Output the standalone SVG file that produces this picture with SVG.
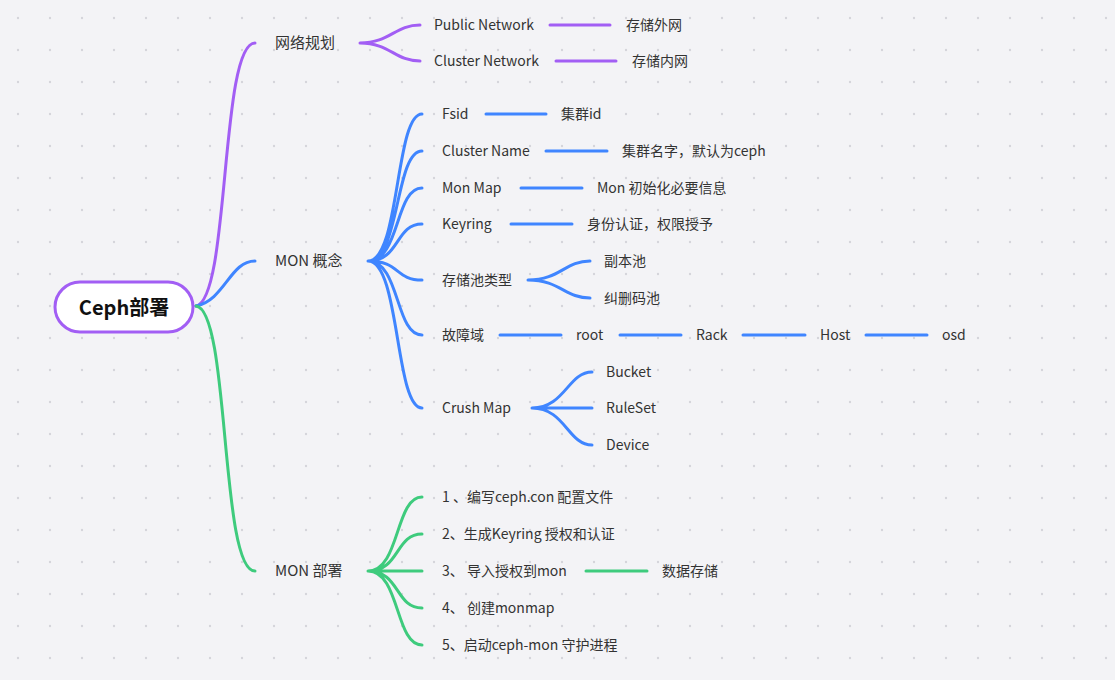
<svg xmlns="http://www.w3.org/2000/svg" width="1115" height="680" viewBox="0 0 1115 680">
<defs>
<pattern id="dots" x="0" y="0" width="32" height="32" patternUnits="userSpaceOnUse"><circle cx="18" cy="18" r="1.2" fill="#d4d4da"/></pattern>
<style>
text{font-family:"Noto Sans CJK SC","Noto Sans",sans-serif;font-size:14px;fill:#333}
.p{fill:none;stroke:#a25ef4;stroke-width:3;stroke-linecap:round}
.b{fill:none;stroke:#3f85ff;stroke-width:3;stroke-linecap:round}
.g{fill:none;stroke:#3ecb7d;stroke-width:3;stroke-linecap:round}
.t{font-size:15px}
</style>
</defs>
<rect width="1115" height="680" fill="#f3f3f6"/>
<rect width="1115" height="680" fill="url(#dots)"/>
<g id="connectors">
<path class="p" d="M196,306 C230,300 220,43 255,43"/>
<path class="b" d="M196,306 C225,300 230,261 255,261"/>
<path class="g" d="M196,306 C230,310 220,571 255,571"/>
<path class="p" d="M360,43 C390,43 395,25 420,25 M360,43 C390,43 395,61 420,61"/>
<path class="p" d="M550,25H610 M556,61H616"/>
<path class="b" d="M368,261 C400,261 395,114 422,114 M368,261 C400,261 395,151 422,151 M368,261 C400,261 395,188 422,188 M368,261 C400,261 395,224 422,224 M368,261 C400,261 395,280 422,280 M368,261 C400,261 395,335 422,335 M368,261 C400,261 395,408 422,408"/>
<path class="b" d="M486,114H546 M546,151H607 M521,188H582 M511,224H572 M500,335H561 M620,335H681 M743,335H805 M866,335H927"/>
<path class="b" d="M528,280 C560,280 565,261 590,261 M528,280 C560,280 565,298 590,298"/>
<path class="b" d="M532,408 C565,408 568,372 592,372 M532,408H592 M532,408 C565,408 568,445 592,445"/>
<path class="g" d="M368,571 C400,571 395,497 422,497 M368,571 C400,571 395,534 422,534 M368,571H422 M368,571 C400,571 395,608 422,608 M368,571 C400,571 395,645 422,645"/>
<path class="g" d="M586,571H647"/>
</g>
<g id="root"><rect x="55" y="282" width="138" height="50" rx="25" fill="#fff" stroke="#a25ef4" stroke-width="3"/><text x="124" y="315" text-anchor="middle" style="font-size:20px;font-weight:bold;fill:#111">Ceph部署</text></g>
<g id="net"><text class="t" x="275" y="48">网络规划</text></g>
<g id="mon"><text class="t" x="275" y="266">MON 概念</text></g>
<g id="deploy"><text class="t" x="275" y="576">MON 部署</text></g>
<g id="n1"><text x="434" y="30">Public Network</text><text x="626" y="30">存储外网</text></g>
<g id="n2"><text x="434" y="66">Cluster Network</text><text x="632" y="66">存储内网</text></g>
<g id="m1"><text x="442" y="119">Fsid</text><text x="561" y="119">集群id</text></g>
<g id="m2"><text x="442" y="156">Cluster Name</text><text x="622" y="156">集群名字，默认为ceph</text></g>
<g id="m3"><text x="442" y="193">Mon Map</text><text x="597" y="193">Mon 初始化必要信息</text></g>
<g id="m4"><text x="442" y="229">Keyring</text><text x="587" y="229">身份认证，权限授予</text></g>
<g id="m5"><text x="442" y="285">存储池类型</text><text x="604" y="266">副本池</text><text x="604" y="303">纠删码池</text></g>
<g id="m6"><text x="442" y="340">故障域</text><text x="576" y="340">root</text><text x="696" y="340">Rack</text><text x="820" y="340">Host</text><text x="942" y="340">osd</text></g>
<g id="m7"><text x="442" y="413">Crush Map</text><text x="606" y="377">Bucket</text><text x="606" y="413">RuleSet</text><text x="606" y="450">Device</text></g>
<g id="d1"><text x="442" y="502">1 、编写ceph.con 配置文件</text></g>
<g id="d2"><text x="442" y="539">2、生成Keyring 授权和认证</text></g>
<g id="d3"><text x="442" y="576">3、 导入授权到mon</text><text x="662" y="576">数据存储</text></g>
<g id="d4"><text x="442" y="613">4、 创建monmap</text></g>
<g id="d5"><text x="442" y="650">5、启动ceph-mon 守护进程</text></g>
</svg>
